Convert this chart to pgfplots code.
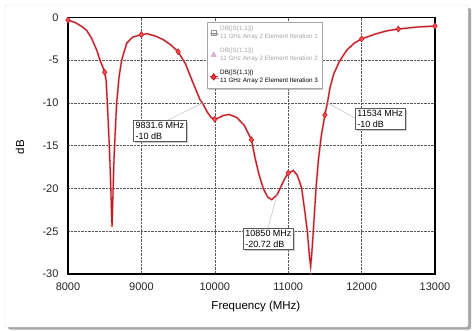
\documentclass[border=0pt]{standalone}
\usepackage{fontspec}
\setmainfont{Liberation Sans}
\usepackage{pgfplots}
\usepackage{pgfplotstable}
\pgfplotsset{compat=1.18}
\usetikzlibrary{shadows}
\definecolor{curve}{RGB}{190,32,42}

\pgfplotstableread{
f db
8000 -0.3
8100 -0.6
8180 -1.0
8254 -1.5
8320 -2.4
8391 -3.8
8436 -5.0
8470 -5.7
8500 -6.4
8520 -7.4
8536 -10.0
8563 -15.0
8580 -19.0
8592 -22.5
8600 -24.5
8610 -21.5
8625 -17.0
8640 -14.0
8663 -10.0
8695 -7.0
8731 -5.0
8800 -3.0
8880 -2.3
9000 -2.0
9080 -1.9
9200 -2.2
9300 -2.6
9400 -3.2
9500 -4.0
9600 -5.4
9706 -7.7
9798 -9.6
9831.6 -10.0
9900 -11.1
9950 -11.7
10000 -11.9
10060 -11.7
10120 -11.45
10200 -11.35
10300 -11.7
10400 -12.6
10500 -14.3
10548 -16.4
10600 -18.3
10661 -20.0
10720 -21.0
10775 -21.3
10850 -20.72
10889 -20.0
10950 -18.9
11000 -18.2
11070 -17.9
11120 -18.4
11155 -19.2
11184 -20.0
11225 -22.6
11261 -25.0
11290 -28.0
11306 -29.1
11322 -27.5
11342 -25.0
11379 -20.0
11411 -16.7
11450 -13.9
11500 -11.4
11534 -10.0
11570 -8.2
11620 -6.6
11700 -5.1
11800 -3.8
11900 -3.0
12000 -2.5
12200 -1.9
12350 -1.55
12500 -1.35
12750 -1.12
13000 -1.0
}\curvedata

\pgfplotstableread{
f db
8000 -0.3
8500 -6.4
9000 -2.0
9500 -4.0
10000 -11.9
10500 -14.3
11000 -18.2
11500 -11.4
12000 -2.5
12500 -1.35
13000 -1.0
}\markdata

\begin{document}
\begin{tikzpicture}
\path[use as bounding box] (0pt,0pt) rectangle (474pt,330pt);
\fill[black!35, rounded corners=2pt] (8pt,0.5pt) rectangle (471pt,322pt);
\filldraw[fill=white, draw=black!12, rounded corners=2pt] (5pt,3pt) rectangle (468pt,325pt);
\begin{axis}[
  at={(68pt,56pt)}, anchor=south west,
  scale only axis, width=367pt, height=256.5pt,
  xmin=8000, xmax=13000, ymin=-30, ymax=0,
  xtick={8000,9000,...,13000}, ytick={-30,-25,...,0},
  scaled ticks=false,
  grid=major, grid style={densely dotted, black!65, line width=0.6pt},
  axis line style={line width=1.3pt},
  major tick length=0pt,
  /pgf/number format/assume math mode=true,
  /pgf/number format/1000 sep={},
  tick label style={font=\fontsize{11}{13}\selectfont, black!85},
  xticklabel style={yshift=-5pt},
  yticklabel style={xshift=-6pt},
  xlabel={Frequency (MHz)}, ylabel={dB},
  label style={font=\fontsize{11.5}{13}\selectfont},
  xlabel style={at={(axis description cs:0.512,-0.128)}, anchor=center},
  ylabel style={at={(axis description cs:-0.131,0.495)}, anchor=center},
  legend style={at={(axis cs:9894,-0.5)}, anchor=north west,
    font=\fontsize{6.3}{8.3}\selectfont, draw=black!35, fill=white,
    drop shadow={shadow xshift=1.5pt, shadow yshift=-1.5pt, fill=black!45},
    cells={align=left, anchor=west}, row sep=3.5pt, inner sep=2pt},
  legend image code/.code={\draw[mark repeat=2,mark phase=2] plot coordinates {(0pt,0pt)(4pt,0pt)(8pt,0pt)};},
]
\addlegendimage{black!40, mark=square, mark size=2.6pt, line width=0.6pt}
\addlegendentry{\textcolor{black!35}{DB(|S(1,1)|)}\\\textcolor{black!35}{11 GHz Array 2 Element Iteration 1}}
\addlegendimage{only marks, mark=triangle*, mark size=3pt, mark options={fill=blue!30!purple!30, draw=blue!30!purple!40}}
\addlegendentry{\textcolor{black!35}{DB(|S(1,1)|)}\\\textcolor{black!35}{11 GHz Array 2 Element Iteration 2}}
\addlegendimage{curve, line width=1pt, mark=diamond*, mark size=3pt, mark options={fill=red!80, draw=curve}}
\addlegendentry{DB(|S(1,1)|)\\11 GHz Array 2 Element Iteration 3}

\addplot[forget plot, curve!35, line width=2.6pt, opacity=0.5] table[x=f,y=db] {\curvedata};
\addplot[forget plot, curve, line width=1.3pt] table[x=f,y=db] {\curvedata};
\addplot[forget plot, only marks, mark=diamond*, mark size=3pt, mark options={fill=red!70, draw=curve, line width=0.6pt}] table[x=f,y=db] {\markdata};

\draw[black!22, line width=0.6pt] (axis cs:9362,-12) -- (axis cs:9831.6,-10);
\draw[black!22, line width=0.6pt] (axis cs:10725,-24.6) -- (axis cs:10850,-20.72);
\draw[black!22, line width=0.6pt] (axis cs:11910,-11.75) -- (axis cs:11534,-10);
\tikzset{ann/.style={draw=black!65, fill=white, line width=0.6pt, align=left,
  font=\fontsize{9}{10.5}\selectfont, inner sep=2.2pt, anchor=north west,
  drop shadow={shadow xshift=1.5pt, shadow yshift=-1.5pt, fill=black!40}}}
\node[ann] at (axis cs:8886,-12.0) {9831.6 MHz\\-10 dB};
\node[ann] at (axis cs:10384,-24.6) {10850 MHz\\-20.72 dB};
\node[ann] at (axis cs:11910,-10.6) {11534 MHz\\-10 dB};
\end{axis}
\end{tikzpicture}
\end{document}
